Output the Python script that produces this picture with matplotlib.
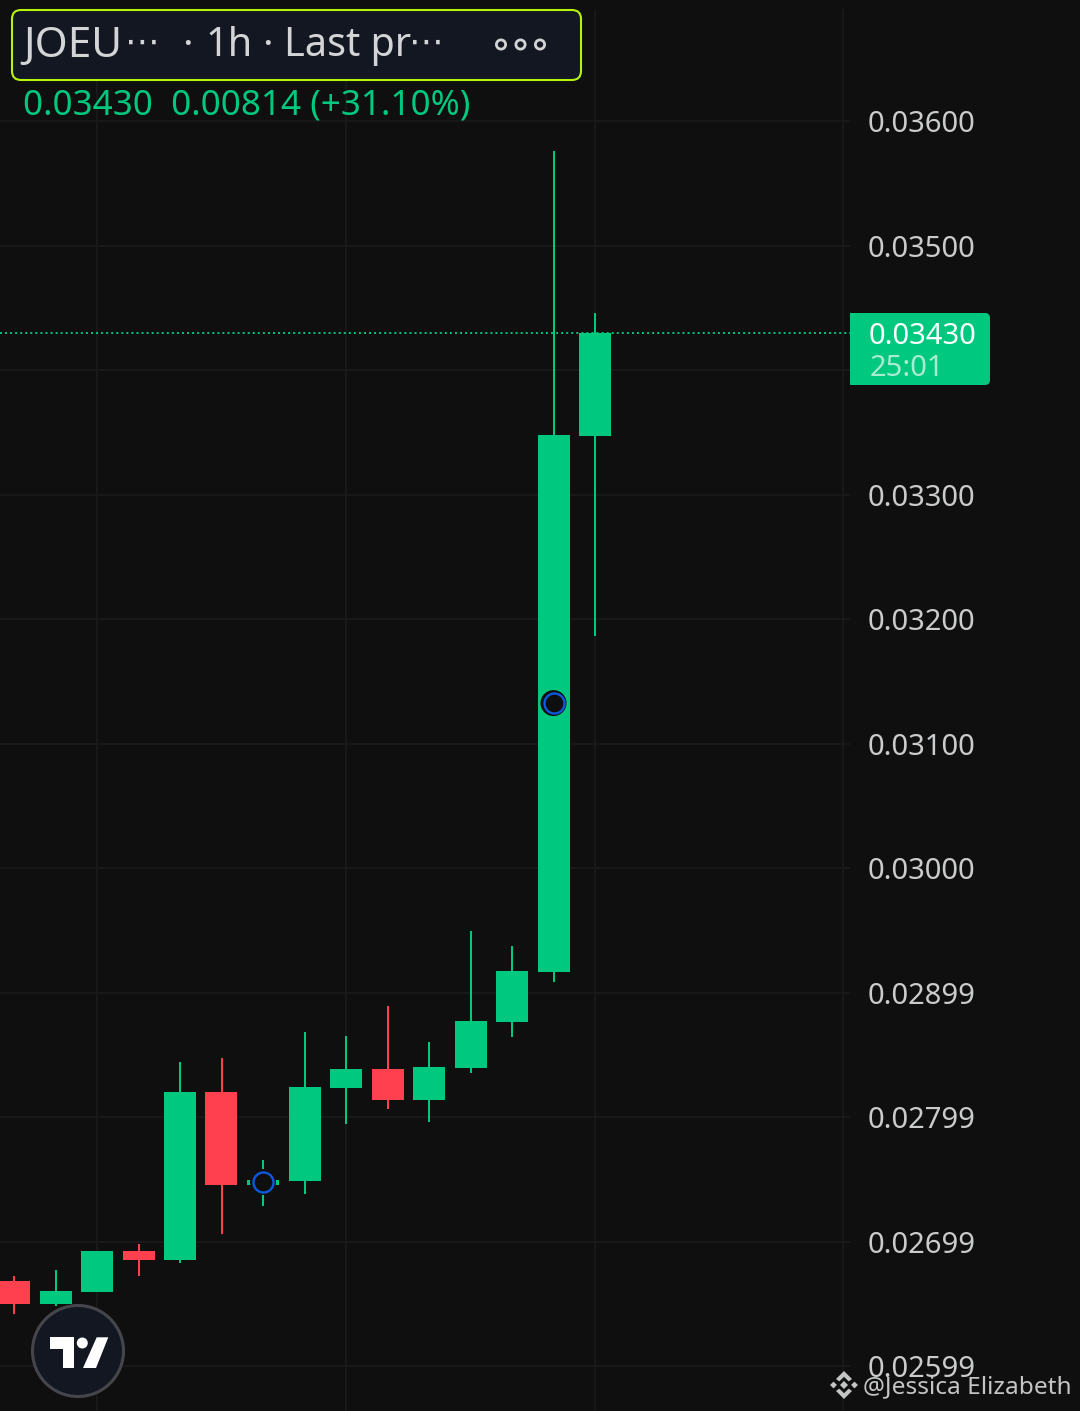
import matplotlib
matplotlib.use("Agg")
import matplotlib.pyplot as plt
from matplotlib.patches import Rectangle, FancyBboxPatch, Circle, Polygon

# Candles, oldest to newest
opens  = [0.026683, 0.026498, 0.026595, 0.026924, 0.026852, 0.028202, 0.027454, 0.027487,
          0.028234, 0.028387, 0.028137, 0.028395, 0.028764, 0.029166, 0.033473]
closes = [0.026498, 0.026603, 0.026924, 0.026852, 0.028202, 0.027454, 0.027495, 0.028242,
          0.028387, 0.028137, 0.028403, 0.028772, 0.029174, 0.033481, 0.034300]
highs  = [0.026723, 0.026771, 0.026924, 0.026980, 0.028443, 0.028475, 0.027655, 0.028684,
          0.028652, 0.028893, 0.028603, 0.029495, 0.029375, 0.035763, 0.034461]
lows   = [0.026418, 0.026482, 0.026595, 0.026723, 0.026828, 0.027061, 0.027286, 0.027382,
          0.027945, 0.028065, 0.027961, 0.028354, 0.028644, 0.029086, 0.031866]
marker_bars = [6, 13]
marker_prices = [0.027479, 0.031327]

price_ticks = [0.026, 0.027, 0.028, 0.029, 0.030, 0.031, 0.032, 0.033, 0.034, 0.035, 0.036]
price_labels = ["0.02599", "0.02699", "0.02799", "0.02899", "0.03000", "0.03100",
                "0.03200", "0.03300", "", "0.03500", "0.03600"]
time_ticks = [2, 8, 14]
last_price = "0.03430"
countdown = "25:01"
change_line = "0.03430  0.00814 (+31.10%)"
credit = "@Jessica Elizabeth"

BG = "#0f0f0f"
GRID = "#181818"
UP = "#00c97f"
DOWN = "#ff414f"
TEXT = "#c9cbcc"
PANEL = "#131722"
FONT = "Noto Sans"
W, H = 1080, 1411
plt.rcParams["font.family"] = [FONT, "DejaVu Sans"]

fig = plt.figure(figsize=(W / 100, H / 100), dpi=100, facecolor=BG)
ax = fig.add_axes([0, 0, 843 / W, 1])
ax.set_facecolor(BG)
bar_px = 41.5
y_low, y_high, grid_top = 0.025639, 0.036976, 0.036896
ax.set_xlim(-14 / bar_px, (843 - 14) / bar_px)
ax.set_ylim(y_low, y_high)
for s in ("top", "left", "bottom"):
    ax.spines[s].set_visible(False)
ax.spines["right"].set_color(GRID)
ax.spines["right"].set_linewidth(1.5)
ax.spines["right"].set_bounds(y_low, grid_top)
ax.grid(True, axis="y", color=GRID, lw=1.5, zorder=0)
ax.set_axisbelow(True)
ax.vlines(time_ticks, y_low, grid_top, color=GRID, lw=1.5, zorder=1)
ax.set_xticks(time_ticks)
ax.tick_params(axis="x", length=0, labelbottom=False)
ax.yaxis.tick_right()
ax.set_yticks(price_ticks)
ax.set_yticklabels(price_labels, fontsize=21, color=TEXT, fontfamily=FONT)
ax.tick_params(axis="y", length=5, width=1.5, color=GRID, pad=13)

body_w = 32 / bar_px
for i, (o, c, h, l) in enumerate(zip(opens, closes, highs, lows)):
    col = UP if c >= o else DOWN
    ax.vlines(i, l, h, color=col, lw=1.45, zorder=3)
    ax.add_patch(Rectangle((i - body_w / 2, min(o, c)), body_w, abs(c - o),
                           facecolor=col, edgecolor="none", zorder=4))

ax.axhline(closes[-1], xmax=850 / 843, color=UP, lw=1.4, ls=(0, (1, 1.6)), zorder=5, clip_on=False)

ax.scatter(marker_bars, marker_prices, s=350, c=BG, edgecolors="none", zorder=6)
ax.scatter(marker_bars, marker_prices, s=207, c=BG, edgecolors="#0d58dc", linewidths=1.7, zorder=7)

# Overlay in screen pixels for the app's interface elements
ui = fig.add_axes([0, 0, 1, 1], facecolor="none")
ui.set_xlim(0, W)
ui.set_ylim(H, 0)
ui.axis("off")

ui.add_patch(FancyBboxPatch((12, 10), 569, 70, boxstyle="round,pad=0,rounding_size=9",
                            fc=PANEL, ec="#b5f30d", lw=1.5))
HDR = "#d3d4d6"
hdr = dict(fontsize=28.5, color=HDR, va="center", ha="left", fontfamily=FONT)
dots = dict(fontsize=25, color=HDR, va="center", ha="left", fontfamily=["DejaVu Sans"])
ui.text(23, 46, "JOEU", fontsize=30.5, color=HDR, va="center", ha="left", fontfamily=FONT)
ui.text(125, 43, "\u22ef", **dots)
ui.text(182, 46, "\u00b7", **hdr)
ui.text(205, 46, "1h", **hdr)
ui.text(262, 46, "\u00b7", **hdr)
ui.text(284, 46, "Last pr", **hdr)
ui.text(409, 43, "\u22ef", **dots)
for cx in (501, 520.5, 540):
    ui.add_patch(Circle((cx, 44.5), 4.6, fc="none", ec=HDR, lw=2))

ui.text(23, 105, change_line, fontsize=25.2, color=UP, va="center", ha="left", fontfamily=FONT)

# Price tag
ui.add_patch(FancyBboxPatch((850, 313), 140, 72, boxstyle="round,pad=0,rounding_size=5", fc=UP, ec="none"))
ui.add_patch(Rectangle((850, 313), 20, 72, fc=UP, ec="none"))
ui.text(869, 337, last_price, fontsize=21, color="white", va="center", ha="left", fontfamily=FONT)
ui.text(870, 368, countdown, fontsize=21, color="#a6ecd2", va="center", ha="left", fontfamily=FONT)

# Logo badge
ui.add_patch(Circle((78, 1351), 45.5, fc=PANEL, ec="#45464c", lw=2.2))
ui.add_patch(Polygon([(50, 1337.3), (74, 1337.3), (74, 1368), (63.3, 1368), (63.3, 1348.7), (50, 1348.7)], fc="white", ec="none"))
ui.add_patch(Circle((82.3, 1343), 5.5, fc="white", ec="none"))
ui.add_patch(Polygon([(96.7, 1337.3), (108.3, 1337.3), (96, 1368), (83, 1368)], fc="white", ec="none"))

# Watermark
wm = "#c4c5c5"
cx, cy = 844, 1385
def diamond(x, y, r):
    ui.add_patch(Polygon([(x - r, y), (x, y - r), (x + r, y), (x, y + r)], fc=wm, ec="none"))
diamond(cx, cy, 4)
diamond(cx - 10.5, cy, 3.4)
diamond(cx + 10.5, cy, 3.4)
ui.add_patch(Polygon([(cx, cy - 14), (cx + 8, cy - 6), (cx + 4.7, cy - 3.6), (cx, cy - 8.2), (cx - 4.7, cy - 3.6), (cx - 8, cy - 6)], fc=wm, ec="none"))
ui.add_patch(Polygon([(cx, cy + 14), (cx + 8, cy + 6), (cx + 4.7, cy + 3.6), (cx, cy + 8.2), (cx - 4.7, cy + 3.6), (cx - 8, cy + 6)], fc=wm, ec="none"))
ui.text(863, 1387, credit, fontsize=17.6, color=wm, va="center", ha="left", fontfamily=FONT)

fig.savefig("out.png", dpi=100, facecolor=BG)
